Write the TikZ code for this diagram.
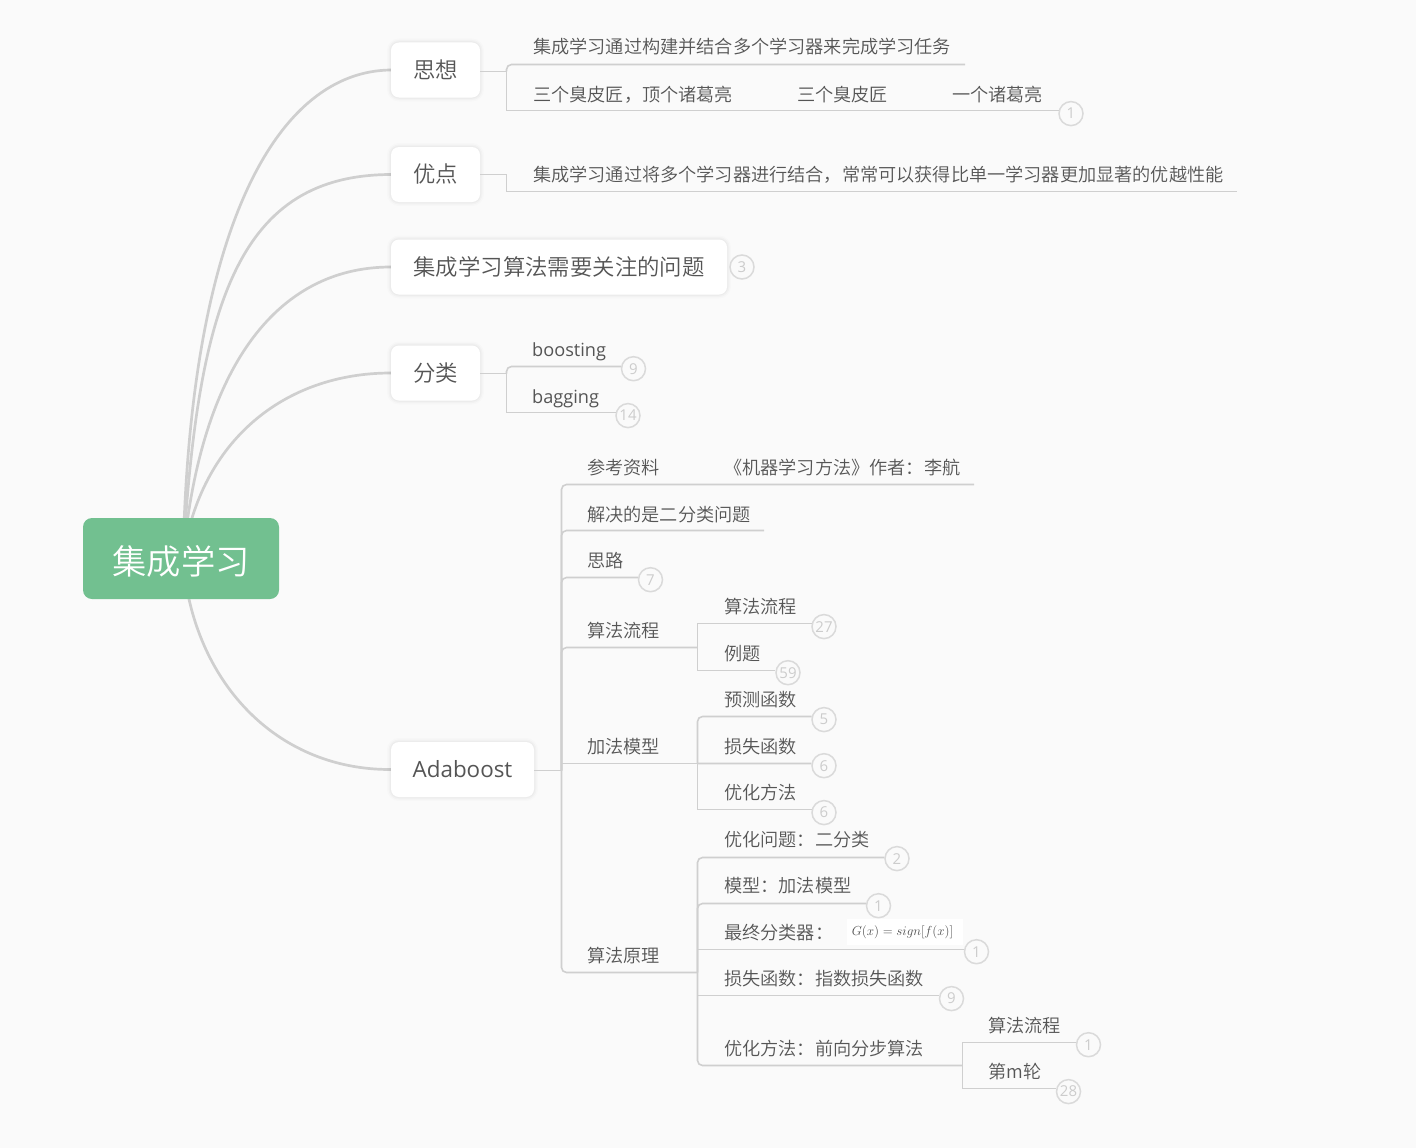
\documentclass[tikz,border=0pt]{standalone}
\usepackage{fontspec}
\setmainfont{Noto Sans CJK SC DemiLight}
\newfontfamily\latinf{Open Sans}
\newcommand\fwcomma{\char"FF0C\relax}
\newcommand\fwcolon{\char"FF1A\relax}
\pgfdeclarelayer{bg}
\pgfsetlayers{bg,main}
\definecolor{pagebg}{HTML}{FAFAFA}
\definecolor{linec}{HTML}{CFCFCF}
\definecolor{txt}{HTML}{555555}
\definecolor{rootg}{HTML}{72C090}
\definecolor{badgec}{HTML}{DADADA}
\definecolor{badget}{HTML}{CCCCCC}
\tikzset{
  x=1pt,y=-1pt,
  rootbox/.style={draw=none,fill=rootg,rounded corners=9pt,text=white,minimum width=196pt,minimum height=81pt,inner sep=0pt,text height=31pt,text depth=0pt,font=\fontsize{34.3}{36}\selectfont},
  topic/.style={fill=white,rounded corners=8pt,text=txt,inner sep=0pt,minimum height=55pt,text height=19pt,text depth=3pt,font=\fontsize{22.4}{24}\selectfont,
    preaction={draw=black,draw opacity=.012,line width=8pt},
    preaction={draw=black,draw opacity=.018,line width=5pt},
    preaction={draw=black,draw opacity=.025,line width=2.5pt}},
  leaf/.style={anchor=base west,inner sep=0pt,text=txt,font=\fontsize{18.17}{20}\selectfont},
  badge/.style={circle,draw=badgec,line width=1.5pt,text=badget,minimum size=24pt,inner sep=0pt,font=\fontsize{15}{16}\selectfont\latinf},
  curve/.style={draw=linec,line width=2.7pt},
  link/.style={draw=linec,line width=1.6pt},
  soft/.style={link,rounded corners=5pt},
}
\begin{document}
\begin{tikzpicture}
\begin{pgfonlayer}{bg}
  \fill[pagebg] (0,0) rectangle (1416,1148);
\end{pgfonlayer}
\useasboundingbox (0,0) rectangle (1416,1148);

% main nodes
\node[rootbox] (root) at (181,558.5) {集成学习};
\node[topic,minimum width=89pt] (sx) at (435.5,70) {思想};
\node[topic,minimum width=89pt] (yd) at (435.5,174.5) {优点};
\node[topic,minimum width=336pt] (wt) at (559,267) {集成学习算法需要关注的问题};
\node[topic,minimum width=89pt] (fl) at (435.5,373) {分类};
\node[topic,minimum width=143pt] (ada) at (462.5,769.5) {\latinf Adaboost};

% curves
\coordinate (rc) at (183,558.5);
\begin{pgfonlayer}{bg}
  \draw[curve] (rc) .. controls (190,220) and (280,71) .. (sx.west);
  \draw[curve] (rc) .. controls (198,300) and (240,175) .. (yd.west);
  \draw[curve] (rc) .. controls (200,370) and (275,267) .. (wt.west);
  \draw[curve] (rc) .. controls (200,440) and (285,373) .. (fl.west);
  \draw[curve] (rc) .. controls (192,680) and (275,770) .. (ada.west);
\end{pgfonlayer}

% leaf texts
\node[leaf] (t1) at (533,54) {集成学习通过构建并结合多个学习器来完成学习任务};
\node[leaf] (t2a) at (533,101) {三个臭皮匠\fwcomma 顶个诸葛亮};
\node[leaf] (t2b) at (797,101) {三个臭皮匠};
\node[leaf] (t2c) at (952,101) {一个诸葛亮};
\node[leaf] (t3) at (533,181) {集成学习通过将多个学习器进行结合\fwcomma 常常可以获得比单一学习器更加显著的优越性能};
\node[leaf] (t4) at (532,356) {\latinf boosting};
\node[leaf] (t5) at (532,403) {\latinf bagging};
\node[leaf] (a1) at (587,474) {参考资料};
\node[leaf] (a1b) at (724,474) {《机器学习方法》作者\fwcolon 李航};
\node[leaf] (a2) at (587,521) {解决的是二分类问题};
\node[leaf] (a3) at (587,567) {思路};
\node[leaf] (a4) at (587,637) {算法流程};
\node[leaf] (a5) at (587,753) {加法模型};
\node[leaf] (a6) at (587,962) {算法原理};
\node[leaf] (b1) at (724,613.5) {算法流程};
\node[leaf] (b2) at (724,660) {例题};
\node[leaf] (c1) at (724,706.5) {预测函数};
\node[leaf] (c2) at (724,753.5) {损失函数};
\node[leaf] (c3) at (724,799.5) {优化方法};
\node[leaf] (d1) at (724,846.5) {优化问题\fwcolon 二分类};
\node[leaf] (d2) at (724,892.5) {模型\fwcolon 加法模型};
\node[leaf] (d3) at (724,939.5) {最终分类器\fwcolon};
\node[fill=white,minimum width=116pt,minimum height=26pt,inner sep=0pt,text=black!70] (eq) at (905,932) {\fontsize{12}{14}\selectfont\scalebox{1.09}{$G(x)=sign[f(x)]$}\hspace*{5pt}};
\node[leaf] (d4) at (724,985.5) {损失函数\fwcolon 指数损失函数};
\node[leaf] (d5) at (724,1055.5) {优化方法\fwcolon 前向分步算法};
\node[leaf] (e1) at (988,1032.5) {算法流程};
\node[leaf] (e2) at (988,1078.5) {第m轮};

% badges
\node[badge] (n1) at (1071,113.6) {1};
\node[badge] (n3) at (742,267) {3};
\node[badge] (n9) at (633.5,368.7) {9};
\node[badge] (n14) at (628,415.6) {14};
\node[badge] (n7) at (650.5,579.7) {7};
\node[badge] (n27) at (824,626.6) {27};
\node[badge] (n59) at (788,672.7) {59};
\node[badge] (n5) at (824,719.6) {5};
\node[badge] (n6a) at (824,765.7) {6};
\node[badge] (n6b) at (824,812.6) {6};
\node[badge] (n2) at (897,858.6) {2};
\node[badge] (n1b) at (878.5,905.7) {1};
\node[badge] (n1c) at (976.5,951.7) {1};
\node[badge] (n9b) at (951.5,998.6) {9};
\node[badge] (n1d) at (1088.5,1044.7) {1};
\node[badge] (n28) at (1068.5,1091.6) {28};

% junctions and free ends
\coordinate (js) at (506.5,71.5);
\coordinate (jy) at (506.5,174.5);
\coordinate (jf) at (506.5,373.5);
\coordinate (ja) at (561.5,770.5);
\coordinate (jb) at (697.5,647.5);
\coordinate (jc) at (697.5,763.5);
\coordinate (jd) at (697.5,972.5);
\coordinate (je) at (962.5,1065.5);
\coordinate (e1end) at (965,64.5);
\coordinate (e3end) at (1237,191.5);
\coordinate (a1end) at (974,484.5);
\coordinate (a2end) at (764,530.5);

% connectors
\draw[link] (sx.east |- js) -- (js);
\draw[soft] (js) |- (e1end);
\draw[link] (js) |- (n1.166);
\draw[link] (yd.east |- jy) -- (jy);
\draw[link] (jy) |- (e3end);
\draw[link] (fl.east |- jf) -- (jf);
\draw[soft] (jf) |- (n9.170);
\draw[link] (jf) |- (n14.166);
\draw[link] (ada.east |- ja) -- (ja);
\draw[soft] (ja) |- (a1end);
\draw[soft] (ja) |- (a2end);
\draw[soft] (ja) |- (n7.170);
\draw[soft] (ja) |- (jb);
\draw[link] (ja) |- (jc);
\draw[soft] (ja) |- (jd);
\draw[link] (jb) |- (n27.166);
\draw[link] (jb) |- (n59.170);
\draw[soft] (jc) |- (n5.166);
\draw[link] (jc) -- (n6a.170);
\draw[link] (jc) |- (n6b.166);
\draw[soft] (jd) |- (n2.175);
\draw[soft] (jd) |- (n1b.170);
\draw[link] (jd) |- (n1c.170);
\draw[link] (jd) |- (n9b.166);
\draw[soft] (jd) |- (je);
\draw[link] (je) |- (n1d.170);
\draw[link] (je) |- (n28.166);
\end{tikzpicture}
\end{document}
